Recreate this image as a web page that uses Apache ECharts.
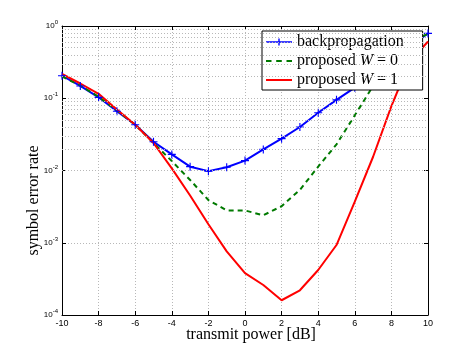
<!DOCTYPE html>
<html>
<head>
<meta charset="utf-8">
<script src="https://cdn.jsdelivr.net/npm/echarts@6/dist/echarts.min.js"></script>
<style>
  html, body { margin: 0; padding: 0; background: #fff; }
  #chart { width: 474px; height: 354px; }
</style>
</head>
<body>
<div id="chart"></div>
<script>
// transmit power in dB
var powerDb = [-10, -9, -8, -7, -6, -5, -4, -3, -2, -1, 0, 1, 2, 3, 4, 5, 6, 7, 8, 9, 10];
// symbol error rate
var backprop = [0.205, 0.148, 0.103, 0.066, 0.043, 0.025, 0.0167, 0.0113, 0.0098, 0.0111, 0.0137,
                0.0196, 0.0276, 0.040, 0.063, 0.095, 0.14, 0.22, 0.33, 0.52, 0.79];
var proposedW0 = [0.2, 0.15, 0.105, 0.068, 0.043, 0.024, 0.0135, 0.0074, 0.0039, 0.0028, 0.0028,
                  0.0024, 0.0032, 0.0054, 0.0113, 0.023, 0.058, 0.148, 0.35, 0.6, 0.78];
var proposedW1 = [0.217, 0.16, 0.115, 0.07, 0.043, 0.024, 0.0107, 0.0045, 0.0018, 0.00076, 0.00038,
                  0.00026, 0.00016, 0.00022, 0.00042, 0.00093, 0.0037, 0.0155, 0.078, 0.32, 0.61];
var seriesNames = ['backpropagation', 'proposed W = 0', 'proposed W = 1'];

// minor grid lines of the log axis (2..9 x 10^k)
var minorGrid = [];
for (var k = -4; k < 0; k++) {
    for (var m = 2; m <= 9; m++) {
        minorGrid.push({yAxis: m * Math.pow(10, k)});
    }
}

function pairs(ys) {
    var out = [];
    for (var i = 0; i < powerDb.length; i++) {
        out.push([powerDb[i], ys[i]]);
    }
    return out;
}

var gridLine = {show: true, lineStyle: {color: '#b8b8b8', width: 1, type: [1, 2]}};
var plusSymbol = 'path://M0,4.3H10V5.7H0Z M4.3,0H5.7V10H4.3Z';
// legend icons, 26x14 box (tiny corner squares keep the box size)
var box = 'M0,0h0.01v0.01h-0.01Z M25.99,13.99h0.01v0.01h-0.01Z ';
var iconBlue = 'path://' + box + 'M0,6.2H26V7.8H0Z M12.3,3.5H13.7V10.5H12.3Z M9.5,6.3H16.5V7.7H9.5Z';
var iconGreen = 'path://' + box + 'M0,6.1H5.5V7.9H0Z M10.2,6.1H15.8V7.9H10.2Z M20.5,6.1H26V7.9H20.5Z';
var iconRed = 'path://' + box + 'M0,6.1H26V7.9H0Z';

var myChart = echarts.init(document.getElementById('chart'));

var option = {
    backgroundColor: '#fff',
    animation: false,
    grid: {left: 62, top: 26, right: 46, bottom: 39},
    legend: {
        data: [
            {name: seriesNames[0], icon: iconBlue},
            {name: seriesNames[1], icon: iconGreen},
            {name: seriesNames[2], icon: iconRed}
        ],
        orient: 'vertical',
        left: 262,
        top: 31,
        backgroundColor: '#fff',
        borderColor: '#000',
        borderWidth: 1,
        borderRadius: 0,
        padding: [3, 19, 2, 4],
        itemWidth: 26,
        itemHeight: 14,
        itemGap: 3,
        formatter: function (name) {
            return name.replace('W', '{i|W}');
        },
        textStyle: {
            fontFamily: 'Liberation Serif',
            fontSize: 16,
            color: '#000',
            rich: {
                i: {fontFamily: 'Liberation Serif', fontSize: 16, fontStyle: 'italic', color: '#000'}
            }
        }
    },
    xAxis: [
        {
            type: 'value',
            min: -10,
            max: 10,
            interval: 2,
            name: 'transmit power [dB]',
            nameLocation: 'middle',
            nameGap: 12,
            nameMoveOverlap: false,
            nameTextStyle: {fontFamily: 'Liberation Serif', fontSize: 16, color: '#000',
                            verticalAlign: 'top', padding: [0, 0, 0, 12]},
            axisLine: {onZero: false, lineStyle: {color: '#000', width: 1}},
            axisTick: {inside: true, length: 4, lineStyle: {color: '#000'}},
            axisLabel: {fontFamily: 'Liberation Sans', fontSize: 9, color: '#000', margin: 4},
            splitLine: gridLine
        },
        {
            type: 'value',
            position: 'top',
            min: -10,
            max: 10,
            interval: 2,
            axisLine: {onZero: false, lineStyle: {color: '#000', width: 1}},
            axisTick: {inside: true, length: 4, lineStyle: {color: '#000'}},
            axisLabel: {show: false},
            splitLine: {show: false}
        }
    ],
    yAxis: [
        {
            type: 'log',
            logBase: 10,
            min: 1e-4,
            max: 1,
            name: 'symbol error rate',
            nameLocation: 'middle',
            nameGap: 20,
            nameMoveOverlap: false,
            nameTextStyle: {fontFamily: 'Liberation Serif', fontSize: 16, color: '#000', padding: [0, 60, 0, 0]},
            axisLine: {onZero: false, lineStyle: {color: '#000', width: 1}},
            axisTick: {inside: true, length: 4, lineStyle: {color: '#000'}},
            axisLabel: {
                margin: 4,
                formatter: function (v) {
                    var e = Math.round(Math.log(v) / Math.LN10);
                    return '{a|10}{b|' + e + '}';
                },
                rich: {
                    a: {fontFamily: 'Liberation Sans', fontSize: 8, color: '#000'},
                    b: {fontFamily: 'Liberation Sans', fontSize: 6, color: '#000', padding: [0, 0, 7, 0]}
                }
            },
            splitLine: gridLine
        },
        {
            type: 'log',
            logBase: 10,
            position: 'right',
            min: 1e-4,
            max: 1,
            axisLine: {show: true, onZero: false, lineStyle: {color: '#000', width: 1}},
            axisTick: {inside: true, length: 4, lineStyle: {color: '#000'}},
            axisLabel: {show: false},
            splitLine: {show: false}
        }
    ],
    series: [
        {
            name: 'minor grid',
            type: 'line',
            data: [],
            silent: true,
            z: 1,
            markLine: {
                silent: true,
                symbol: 'none',
                label: {show: false},
                lineStyle: {color: '#b8b8b8', width: 1, type: [1, 2]},
                data: minorGrid
            }
        },
        {
            name: seriesNames[0],
            type: 'line',
            data: pairs(backprop),
            symbol: plusSymbol,
            symbolSize: 8,
            color: '#0000ff',
            lineStyle: {color: '#0000ff', width: 2},
            itemStyle: {color: '#0000ff'}
        },
        {
            name: seriesNames[1],
            type: 'line',
            data: pairs(proposedW0),
            symbol: 'none',
            color: '#007a00',
            lineStyle: {color: '#007a00', width: 2, type: [5, 4]}
        },
        {
            name: seriesNames[2],
            type: 'line',
            data: pairs(proposedW1),
            symbol: 'none',
            color: '#ff0000',
            lineStyle: {color: '#ff0000', width: 2}
        }
    ]
};

myChart.setOption(option);
</script>
</body>
</html>
